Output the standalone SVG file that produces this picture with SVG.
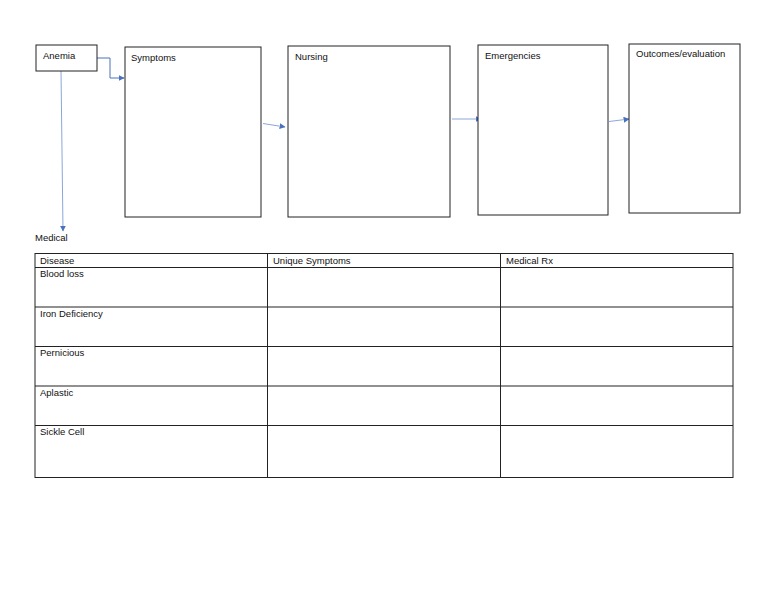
<svg xmlns="http://www.w3.org/2000/svg" width="768" height="594" viewBox="0 0 768 594">
<style>
.box{fill:#fff;stroke:#222;stroke-width:1}
.t{font-family:"Liberation Sans",Arial,sans-serif;font-size:9.5px;fill:#111}
.c{fill:none;stroke:#8ba7da;stroke-width:1}
.c2{fill:none;stroke:#4a72c0;stroke-width:1}
.grid{fill:none;stroke:#222;stroke-width:1}
</style>
<defs>
<marker id="ah" viewBox="0 0 10 10" refX="9" refY="5" markerWidth="6" markerHeight="6" orient="auto" markerUnits="userSpaceOnUse">
<path d="M0,0 L10,5 L0,10 z" fill="#4a72c0"/>
</marker>
</defs>
<rect width="768" height="594" fill="#fff"/>
<g id="connectors">
<polyline class="c2" points="97,58 110,58 110,78 124,78" marker-end="url(#ah)"/>
<line class="c" x1="61" y1="71" x2="63" y2="231" marker-end="url(#ah)"/>
<line class="c" x1="263" y1="123.5" x2="285" y2="127" marker-end="url(#ah)"/>
<line class="c" x1="452" y1="119" x2="481" y2="119" marker-end="url(#ah)"/>
<line class="c" x1="609" y1="121.5" x2="629" y2="119" marker-end="url(#ah)"/>
</g>
<g id="anemia"><rect class="box" x="36" y="45" width="61" height="26"/><text class="t" x="43" y="59">Anemia</text></g>
<g id="symptoms"><rect class="box" x="125" y="47" width="136" height="170"/><text class="t" x="131" y="61">Symptoms</text></g>
<g id="nursing"><rect class="box" x="288" y="46" width="162" height="171"/><text class="t" x="295" y="60">Nursing</text></g>
<g id="emergencies"><rect class="box" x="478" y="45" width="130" height="170"/><text class="t" x="485" y="59">Emergencies</text></g>
<g id="outcomes"><rect class="box" x="629" y="44" width="111" height="169"/><text class="t" x="636" y="57">Outcomes/evaluation</text></g>
<g id="medical"><text class="t" x="35" y="241">Medical</text></g>
<g id="table">
<rect class="grid" x="35" y="253.5" width="698" height="224"/>
<line class="grid" x1="35" y1="267.5" x2="733" y2="267.5"/>
<line class="grid" x1="35" y1="307" x2="733" y2="307"/>
<line class="grid" x1="35" y1="346.5" x2="733" y2="346.5"/>
<line class="grid" x1="35" y1="386" x2="733" y2="386"/>
<line class="grid" x1="35" y1="425.5" x2="733" y2="425.5"/>
<line class="grid" x1="267.5" y1="253.5" x2="267.5" y2="477.5"/>
<line class="grid" x1="500.5" y1="253.5" x2="500.5" y2="477.5"/>
<text class="t" x="40" y="264">Disease</text>
<text class="t" x="273" y="264">Unique Symptoms</text>
<text class="t" x="506" y="264">Medical Rx</text>
<text class="t" x="40" y="277">Blood loss</text>
<text class="t" x="40" y="317">Iron Deficiency</text>
<text class="t" x="40" y="356">Pernicious</text>
<text class="t" x="40" y="396">Aplastic</text>
<text class="t" x="40" y="435">Sickle Cell</text>
</g>
</svg>
